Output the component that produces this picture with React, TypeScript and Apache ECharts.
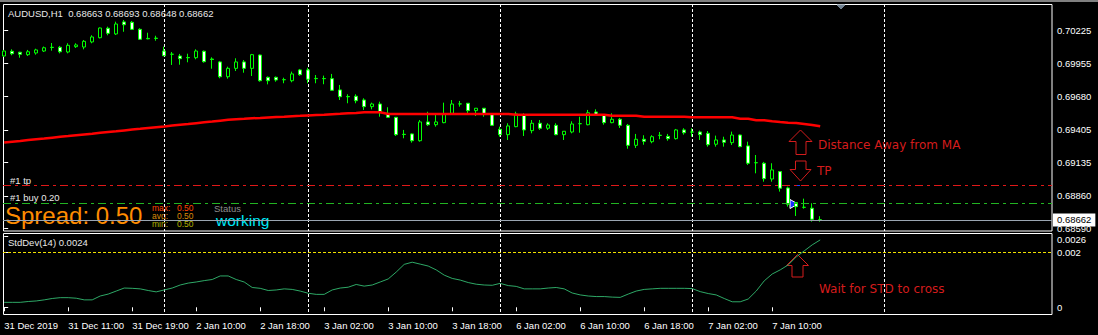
import React, { useEffect, useRef } from 'react';
import * as echarts from 'echarts';

// ---- axis ticks / labels ----
const tickBars = [0, 8, 16, 24, 32, 40, 48, 56, 64, 72, 80, 88, 96];
const tickLabels = [
  '31 Dec 2019', '31 Dec 11:00', '31 Dec 19:00', '2 Jan 10:00', '2 Jan 18:00', '3 Jan 02:00',
  '3 Jan 10:00', '3 Jan 18:00', '6 Jan 02:00', '6 Jan 10:00', '6 Jan 18:00', '7 Jan 02:00', '7 Jan 10:00',
];
const separatorBars = [20, 38, 62, 86, 110];
const priceTicks = [0.70225, 0.69955, 0.6968, 0.69405, 0.69135, 0.6886, 0.6859];
const stdTicks = [0.0026, 0.002, 0];

// ---- AUDUSD H1 candles ----
const opens = [
  0.70015, 0.70054, 0.70046, 0.70026, 0.7004, 0.70056, 0.70085, 0.70087, 0.70048, 0.70092,
  0.70089, 0.70131, 0.70166, 0.70244, 0.70197, 0.70296, 0.70293, 0.70235, 0.7016, 0.70162,
  0.70056, 0.7003, 0.70015, 0.70002, 0.70001, 0.70054, 0.6999, 0.69966, 0.69844, 0.69913,
  0.69966, 0.69913, 0.70023, 0.69839, 0.69839, 0.6982, 0.69811, 0.699, 0.699, 0.6983,
  0.69829, 0.69828, 0.69735, 0.6968, 0.69683, 0.69652, 0.69597, 0.69619, 0.69542, 0.69509,
  0.69369, 0.69372, 0.69316, 0.69471, 0.69448, 0.69465, 0.69542, 0.69619, 0.69625, 0.69564,
  0.69584, 0.69537, 0.6941, 0.69366, 0.69432, 0.69528, 0.69399, 0.6946, 0.69419, 0.69443,
  0.69366, 0.69388, 0.69456, 0.69448, 0.69553, 0.69531, 0.69465, 0.69493, 0.69443, 0.69278,
  0.69328, 0.69308, 0.69361, 0.69352, 0.69333, 0.69405, 0.69388, 0.69388, 0.69377, 0.69287,
  0.69322, 0.693, 0.69363, 0.69273, 0.69135, 0.6913, 0.69, 0.69061, 0.68926, 0.68805,
  0.68767, 0.68759, 0.68663,
];
const closes = [
  0.70056, 0.70034, 0.70029, 0.7005, 0.70065, 0.70083, 0.70087, 0.7005, 0.70103, 0.70106,
  0.70136, 0.70172, 0.70246, 0.70202, 0.70279, 0.70273, 0.70235, 0.70153, 0.70157, 0.7016,
  0.70017, 0.70029, 0.69993, 0.70001, 0.70056, 0.69968, 0.69986, 0.69844, 0.69913, 0.69966,
  0.69913, 0.70026, 0.69811, 0.69811, 0.69817, 0.69819, 0.69867, 0.69861, 0.69823, 0.69828,
  0.69828, 0.69732, 0.69679, 0.69679, 0.69646, 0.69597, 0.69619, 0.69547, 0.69509, 0.69366,
  0.69367, 0.69316, 0.69471, 0.69448, 0.69471, 0.69534, 0.69619, 0.6962, 0.69564, 0.69584,
  0.69537, 0.69443, 0.69366, 0.69438, 0.69537, 0.69405, 0.6946, 0.69419, 0.69446, 0.69366,
  0.69394, 0.69454, 0.69457, 0.69547, 0.69531, 0.69465, 0.69493, 0.69443, 0.69278, 0.69328,
  0.69311, 0.69349, 0.6936, 0.69333, 0.69405, 0.69382, 0.69387, 0.69366, 0.69283, 0.69322,
  0.69303, 0.69363, 0.69267, 0.6913, 0.69134, 0.69003, 0.69075, 0.68924, 0.68792, 0.68772,
  0.68766, 0.68668, 0.68662,
];
const lows = [
  0.70007, 0.70021, 0.70001, 0.70015, 0.70026, 0.70048, 0.70059, 0.70037, 0.70037, 0.70081,
  0.7007, 0.7012, 0.7016, 0.70186, 0.70188, 0.70215, 0.70229, 0.70147, 0.70153, 0.70141,
  0.70015, 0.69941, 0.69943, 0.69963, 0.69988, 0.6996, 0.6991, 0.69831, 0.69828, 0.69891,
  0.69877, 0.6985, 0.69803, 0.69781, 0.69803, 0.6979, 0.69798, 0.69852, 0.6979, 0.6979,
  0.69782, 0.69729, 0.69652, 0.69625, 0.69625, 0.6957, 0.69575, 0.69514, 0.69504, 0.69355,
  0.69336, 0.693, 0.69308, 0.69438, 0.69432, 0.6946, 0.69537, 0.69597, 0.69542, 0.6952,
  0.69514, 0.69438, 0.69349, 0.69322, 0.69427, 0.69355, 0.69377, 0.69405, 0.69405, 0.69361,
  0.69322, 0.69377, 0.69382, 0.69443, 0.6952, 0.69448, 0.6946, 0.69421, 0.6925, 0.69256,
  0.69283, 0.69295, 0.69328, 0.69316, 0.69326, 0.69366, 0.69349, 0.69322, 0.69267, 0.69267,
  0.69267, 0.69281, 0.69262, 0.69116, 0.69047, 0.68978, 0.68978, 0.68896, 0.68772, 0.68695,
  0.68755, 0.68648, 0.68648,
];
const highs = [
  0.70065, 0.7007, 0.7005, 0.70065, 0.70075, 0.70093, 0.70122, 0.70098, 0.7012, 0.7012,
  0.70147, 0.70186, 0.7025, 0.70257, 0.70298, 0.70312, 0.70304, 0.70244, 0.70207, 0.70182,
  0.70092, 0.70048, 0.70032, 0.70034, 0.7007, 0.7006, 0.70004, 0.69974, 0.69927, 0.69996,
  0.69982, 0.70032, 0.70027, 0.69846, 0.69846, 0.69836, 0.69886, 0.69908, 0.69918, 0.69858,
  0.69853, 0.69867, 0.69776, 0.69699, 0.69699, 0.69666, 0.6963, 0.69638, 0.69592, 0.69512,
  0.69405, 0.69376, 0.69487, 0.69555, 0.69528, 0.6963, 0.69652, 0.69644, 0.69627, 0.69586,
  0.69586, 0.69545, 0.69432, 0.6946, 0.69555, 0.69542, 0.69487, 0.69487, 0.6946, 0.6946,
  0.69396, 0.69476, 0.69514, 0.6957, 0.69575, 0.69532, 0.69542, 0.69504, 0.69454, 0.69372,
  0.69361, 0.69361, 0.69388, 0.69372, 0.69413, 0.69419, 0.69419, 0.69399, 0.69396, 0.69358,
  0.69349, 0.69391, 0.69367, 0.69308, 0.69198, 0.69141, 0.6913, 0.69066, 0.68937, 0.6881,
  0.68838, 0.688, 0.68693,
];

// ---- moving average (red) ----
const maValues = [
  0.69301, 0.69308, 0.69314, 0.69321, 0.69328, 0.69334, 0.69341, 0.69348, 0.69354, 0.69361,
  0.69368, 0.69374, 0.69381, 0.69388, 0.69394, 0.69401, 0.69408, 0.69414, 0.69421, 0.69428,
  0.69434, 0.69441, 0.69448, 0.69454, 0.69461, 0.69468, 0.69474, 0.69481, 0.69488, 0.69494,
  0.69497, 0.69501, 0.69504, 0.69508, 0.69511, 0.69514, 0.69518, 0.69521, 0.69525, 0.69528,
  0.69531, 0.69535, 0.69538, 0.69542, 0.69545, 0.69551, 0.69551, 0.69551, 0.69537, 0.69537,
  0.69537, 0.69537, 0.69537, 0.69537, 0.69537, 0.69537, 0.69537, 0.69537, 0.69537, 0.69537,
  0.69537, 0.69537, 0.69537, 0.69537, 0.69531, 0.69531, 0.69531, 0.69531, 0.69531, 0.69531,
  0.69531, 0.69531, 0.69531, 0.69531, 0.69531, 0.69531, 0.69522, 0.69522, 0.69522, 0.69522,
  0.69514, 0.69514, 0.69514, 0.69514, 0.69514, 0.69514, 0.69509, 0.69509, 0.69509, 0.69509,
  0.69509, 0.69509, 0.69498, 0.69498, 0.69485, 0.69485, 0.69476, 0.6947, 0.69465, 0.69462,
  0.69454, 0.69446, 0.69435,
];

// ---- StdDev(14) ----
const stdDev = [
  0.00018, 0.00018, 0.00018, 0.00021, 0.00023, 0.00027, 0.00032, 0.00035, 0.00035, 0.00033,
  0.00027, 0.00027, 0.00041, 0.00048, 0.00059, 0.0007, 0.00069, 0.00067, 0.00061, 0.00056,
  0.00063, 0.0007, 0.00081, 0.00088, 0.00092, 0.00097, 0.00101, 0.00114, 0.00114, 0.00101,
  0.00092, 0.00072, 0.00069, 0.00061, 0.00063, 0.00067, 0.00065, 0.00059, 0.00051, 0.00047,
  0.00047, 0.00063, 0.0007, 0.00073, 0.00083, 0.00077, 0.00081, 0.00092, 0.00103, 0.00128,
  0.00156, 0.00164, 0.00157, 0.0015, 0.00136, 0.00117, 0.00105, 0.00099, 0.0009, 0.00084,
  0.00081, 0.0008, 0.00087, 0.00079, 0.00076, 0.00067, 0.00067, 0.00067, 0.0007, 0.00072,
  0.00067, 0.00052, 0.00045, 0.00041, 0.00039, 0.00039, 0.00037, 0.00036, 0.00048, 0.00059,
  0.00065, 0.00067, 0.00069, 0.00069, 0.00069, 0.00069, 0.00068, 0.00057, 0.0005, 0.00045,
  0.00032, 0.0002, 0.0002, 0.0003, 0.00059, 0.00096, 0.00121, 0.00136, 0.00154, 0.00183,
  0.00205, 0.00227, 0.00245,
];

const tpPrice = 0.68948;
const buyPrice = 0.68802;
const bidPrice = 0.68662;
const stdLevel = 0.002;

const FONT = 'Liberation Sans';
const NOTE_RED = '#d41c1c';

export default function App() {
  const ref = useRef<HTMLDivElement>(null);

  useEffect(() => {
    document.body.style.margin = '0';
    document.body.style.background = '#000';
    const chart = echarts.init(ref.current!, undefined, { renderer: 'svg' });

    const candles = opens.map((o, i) => [i, o, closes[i], lows[i], highs[i]]);
    const maData = maValues.map((v, i) => [i, v]);
    const stdData = stdDev.map((v, i) => [i, v]);
    const sepData = separatorBars.map((b) => [b]);

    const separatorSeries = (gridIdx: number) => ({
      type: 'custom',
      xAxisIndex: gridIdx,
      yAxisIndex: gridIdx,
      data: sepData,
      encode: { x: 0 },
      silent: true,
      z: 1,
      clip: false,
      renderItem: (params: any, api: any) => {
        const cs = params.coordSys;
        const x = Math.round(api.coord([api.value(0), 0])[0]) + 0.5;
        return {
          type: 'line',
          shape: { x1: x, y1: cs.y, x2: x, y2: cs.y + cs.height },
          style: { stroke: '#ffffff', lineWidth: 1, lineDash: [3, 2] },
        };
      },
    });

    const txt = (text: string, x: number, y: number, size: number, fill: string, family = FONT, lh?: number) => ({
      type: 'text',
      x,
      y,
      silent: true,
      style: {
        text,
        fill,
        fontSize: size,
        fontFamily: family,
        lineHeight: lh,
        align: 'left',
        verticalAlign: 'middle',
        textAlign: 'left',
        textVerticalAlign: 'middle',
      },
    });

    const poly = (points: number[][], stroke: string, fill = 'none') => ({
      type: 'polygon',
      silent: true,
      shape: { points },
      style: { fill, stroke, lineWidth: 1 },
    });

    const option: any = {
      backgroundColor: '#000000',
      animation: false,
      grid: [
        { left: 3, top: 4, width: 1049, height: 227 },
        { left: 3, top: 234, width: 1049, height: 80 },
      ],
      xAxis: [
        {
          type: 'value', gridIndex: 0, min: -0.15, max: 130.975,
          axisLine: { show: false }, axisTick: { show: false }, axisLabel: { show: false }, splitLine: { show: false },
        },
        {
          type: 'value', gridIndex: 1, min: -0.15, max: 130.975,
          axisLine: { show: false },
          axisTick: { show: true, customValues: tickBars, length: 4, lineStyle: { color: '#ffffff' } },
          axisLabel: {
            show: true, customValues: tickBars,
            formatter: (v: number) => tickLabels[tickBars.indexOf(v)] ?? '',
            color: '#ffffff', fontSize: 9.5, fontFamily: FONT, align: 'left', margin: 6,
            showMinLabel: true, showMaxLabel: true,
          },
          splitLine: { show: false },
        },
      ],
      yAxis: [
        {
          type: 'value', gridIndex: 0, position: 'right', min: 0.68571, max: 0.70444,
          axisLine: { show: false },
          axisTick: { show: true, customValues: priceTicks, length: 4, lineStyle: { color: '#ffffff' } },
          axisLabel: {
            customValues: priceTicks, formatter: (v: number) => v.toFixed(5),
            color: '#ffffff', fontSize: 9.5, fontFamily: FONT, margin: 5,
            showMinLabel: true, showMaxLabel: true,
          },
          splitLine: { show: false },
        },
        {
          type: 'value', gridIndex: 1, position: 'right', min: -0.000244, max: 0.002665,
          axisLine: { show: false },
          axisTick: { show: true, customValues: stdTicks, length: 4, lineStyle: { color: '#ffffff' } },
          axisLabel: {
            customValues: stdTicks,
            formatter: (v: number) => (v === 0 ? '0' : v === stdTicks[0] ? '{top|' + String(v) + '}' : String(v)),
            rich: { top: { padding: [8, 0, 0, 0], color: '#ffffff', fontSize: 9.5, fontFamily: FONT } },
            color: '#ffffff', fontSize: 9.5, fontFamily: FONT, margin: 5,
            showMinLabel: true, showMaxLabel: true,
          },
          splitLine: { show: false },
        },
      ],
      series: [
        separatorSeries(0),
        separatorSeries(1),
        {
          type: 'candlestick',
          xAxisIndex: 0, yAxisIndex: 0,
          data: candles,
          barWidth: 4,
          clip: true,
          z: 2,
          itemStyle: { color: '#000000', color0: '#ffffff', borderColor: '#00ff00', borderColor0: '#00ff00', borderWidth: 1 },
          markLine: {
            silent: true, symbol: ['none', 'none'], animation: false, precision: 6,
            data: [
              { yAxis: tpPrice, lineStyle: { color: '#e01818', type: [8, 4, 3, 4], width: 1 }, label: { show: false } },
              { yAxis: buyPrice, lineStyle: { color: '#22b422', type: [8, 4, 3, 4], width: 1 }, label: { show: false } },
              {
                yAxis: bidPrice, lineStyle: { color: '#9aa5b1', type: 'solid', width: 1 },
                label: {
                  show: true, position: 'end', distance: 1, formatter: bidPrice.toFixed(5),
                  backgroundColor: '#ffffff', color: '#000000', padding: [2, 4, 1, 4],
                  fontSize: 9.5, fontFamily: FONT,
                },
              },
            ],
          },
        },
        {
          type: 'line', xAxisIndex: 0, yAxisIndex: 0, data: maData, symbol: 'none', z: 3,
          lineStyle: { color: '#ff0000', width: 2.5 },
        },
        {
          type: 'line', xAxisIndex: 1, yAxisIndex: 1, data: stdData, symbol: 'none', z: 3,
          lineStyle: { color: '#2ea866', width: 1 },
          markLine: {
            silent: true, symbol: ['none', 'none'], animation: false, precision: 6,
            data: [
              { yAxis: stdLevel, lineStyle: { color: '#f0e000', type: [3, 2], width: 1 }, label: { show: false } },
            ],
          },
        },
      ],
      graphic: [
        { type: 'rect', silent: true, shape: { x: 0, y: 0, width: 1098, height: 2 }, style: { fill: '#808080' } },
        { type: 'rect', silent: true, shape: { x: 3.5, y: 4.5, width: 1048.5, height: 226.5 }, style: { fill: 'none', stroke: '#ffffff', lineWidth: 1 } },
        { type: 'rect', silent: true, shape: { x: 3.5, y: 233.5, width: 1048.5, height: 81 }, style: { fill: 'none', stroke: '#ffffff', lineWidth: 1 } },
        poly([[837, 5], [845, 5], [841, 9]], '#708090', '#708090'),
        txt('AUDUSD,H1\u00a0 0.68663 0.68693 0.68648 0.68662', 8, 13.3, 9.5, '#e8e8e8'),
        txt('#1 tp', 10, 180.5, 9.5, '#e8e8e8'),
        txt('#1 buy 0.20', 10, 197.5, 9.5, '#e8e8e8'),
        txt('Spread: 0.50', 5, 215.5, 24, '#ff8c00'),
        txt('max:', 152, 207.5, 8.5, '#ff4500', FONT, 7),
        txt('0.50', 177, 207.5, 8.5, '#ff4500', FONT, 7),
        txt('avg:', 152, 215.5, 8.5, '#d88a08', FONT, 7),
        txt('0.50', 177, 215.5, 8.5, '#d88a08', FONT, 7),
        txt('min:', 152, 223.5, 8.5, '#b0b000', FONT, 7),
        txt('0.50', 177, 223.5, 8.5, '#b0b000', FONT, 7),
        txt('Status', 214, 208, 9.5, '#8c8c8c', FONT, 8),
        txt('working', 216, 220.5, 15.5, '#00e8f8'),
        txt('StdDev(14) 0.0024', 8, 242.7, 9.5, '#e8e8e8'),
        poly([[800.5, 130], [789, 141.5], [796, 141.5], [796, 154.5], [806, 154.5], [806, 141.5], [812, 141.5]], NOTE_RED),
        poly([[795.5, 161], [806, 161], [806, 169.5], [811, 169.5], [800.5, 181], [790, 169.5], [795.5, 169.5]], NOTE_RED),
        poly([[797.5, 254.5], [786.5, 265.5], [792, 265.5], [792, 277], [803, 277], [803, 265.5], [808.5, 265.5]], NOTE_RED),
        txt('Distance Away from MA', 818, 145, 12, NOTE_RED, 'DejaVu Sans'),
        txt('TP', 817, 171, 12, NOTE_RED, 'DejaVu Sans'),
        txt('Wait for STD to cross', 819, 289, 12, NOTE_RED, 'DejaVu Sans'),
        { type: 'line', silent: true, shape: { x1: 794, y1: 185.5, x2: 800, y2: 185.5 }, style: { stroke: '#2040ff', lineWidth: 1 } },
        poly([[790, 199.5], [798, 204], [790, 208.5]], '#ffffff', '#1a2aff'),
      ],
    };

    chart.setOption(option);
    return () => chart.dispose();
  }, []);

  return <div ref={ref} style={{ position: 'fixed', left: 0, top: 0, width: 1098, height: 335, background: '#000' }} />;
}
